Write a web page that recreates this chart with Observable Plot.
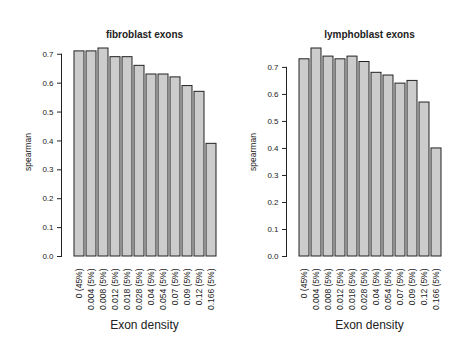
<!DOCTYPE html>
<html><head><meta charset="utf-8">
<script src="https://cdn.jsdelivr.net/npm/d3@7"></script>
<script src="https://cdn.jsdelivr.net/npm/@observablehq/plot@0.6"></script>
<style>
body{margin:0;background:#fff}
#c{display:flex;width:474px;height:349px}
#c svg{display:block}
</style>
</head><body><div id="c"></div>
<script>
const categories = ["0 (45%)","0.004 (5%)","0.008 (5%)","0.012 (5%)","0.018 (5%)","0.028 (5%)","0.04 (5%)","0.054 (5%)","0.07 (5%)","0.09 (5%)","0.12 (5%)","0.166 (5%)"];
const fibroblast = [0.71,0.71,0.72,0.69,0.69,0.66,0.63,0.63,0.62,0.59,0.57,0.39];
const lymphoblast = [0.73,0.77,0.74,0.73,0.74,0.72,0.68,0.67,0.64,0.65,0.57,0.40];
const titles = ["fibroblast exons","lymphoblast exons"];
const yTicks = [0,0.1,0.2,0.3,0.4,0.5,0.6,0.7];
const yLabel = "spearman";
const xLabel = "Exon density";

const FONT = "'Liberation Sans', Arial, Helvetica, sans-serif";
const INK = "#222";

function panel(title, values, cfg) {
  const data = categories.map((c, i) => ({c, v: values[i]}));
  const plot = Plot.plot({
    width: 237, height: 349,
    marginTop: 48, marginBottom: 93, marginLeft: cfg.axisX, marginRight: 0,
    style: {fontFamily: FONT, fontSize: "8px", color: INK, background: "#fff"},
    x: {domain: categories, range: [cfg.barL, cfg.barR], paddingInner: 0.2 / 1.2, paddingOuter: 0, label: null},
    y: {domain: [0, d3.max(values)], label: null},
    marks: [
      Plot.barY(data, {x: "c", y: "v", fill: "#cccccc", stroke: INK, strokeWidth: 1}),
      Plot.axisY(yTicks, {tickSize: 5, tickPadding: 4, tickFormat: ".1f", fontSize: 8, label: null}),
      Plot.axisX({tickRotate: -90, tickSize: 0, tickPadding: 12, fontSize: 8.5, label: null})
    ]
  });
  const ys = plot.scale("y"), xs = plot.scale("x");
  const svg = d3.select(plot);
  const x0 = cfg.axisX - 0.5;
  svg.append("line")
    .attr("x1", x0).attr("x2", x0)
    .attr("y1", ys.apply(yTicks[0])).attr("y2", ys.apply(yTicks[yTicks.length - 1]))
    .attr("stroke", INK);
  const cx = (xs.range[0] + xs.range[1]) / 2;
  const yTop = ys.apply(ys.domain[1]), yBot = ys.apply(0);
  svg.append("text").text(title)
    .attr("x", cx).attr("y", 34).attr("text-anchor", "middle").attr("dominant-baseline", "central")
    .attr("font-weight", "bold").attr("font-size", 10).attr("font-family", FONT).attr("fill", INK);
  svg.append("text").text(xLabel)
    .attr("x", cx).attr("y", 325).attr("text-anchor", "middle").attr("dominant-baseline", "central")
    .attr("font-size", 12).attr("font-family", FONT).attr("fill", INK);
  svg.append("text").text(yLabel)
    .attr("transform", `translate(${cfg.axisX - 34.5},${(yTop + yBot) / 2}) rotate(-90)`)
    .attr("text-anchor", "middle").attr("dominant-baseline", "central")
    .attr("font-size", 8.5).attr("font-family", FONT).attr("fill", INK);
  return plot;
}

const c = document.getElementById("c");
c.appendChild(panel(titles[0], fibroblast, {axisX: 62, barL: 68, barR: 221}));
c.appendChild(panel(titles[1], lymphoblast, {axisX: 50, barL: 56, barR: 209}));
</script>
</body></html>
